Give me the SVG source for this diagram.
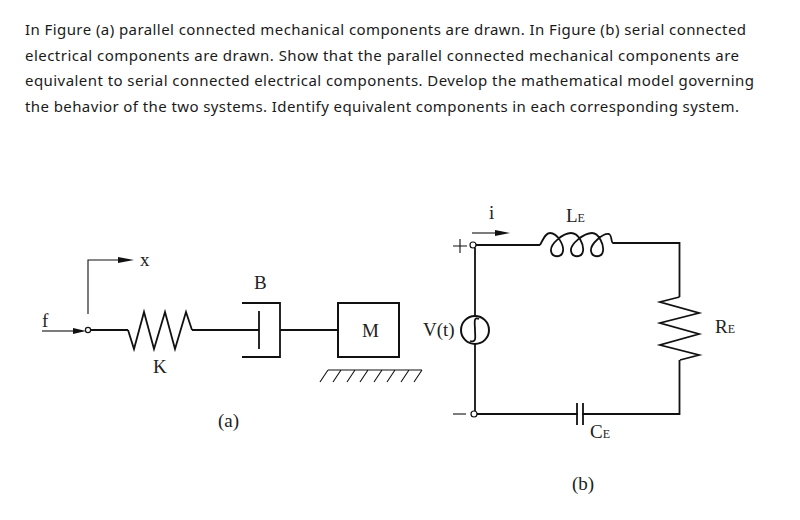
<svg xmlns="http://www.w3.org/2000/svg" width="800" height="520" viewBox="0 0 800 520">
<style>
.p{font-family:"Noto Sans","Open Sans",sans-serif;font-size:15px;fill:#1a1a1a}
.s{font-family:"Liberation Serif",serif;font-size:19px;fill:#222}
.e{font-size:12px}
.l{fill:none;stroke:#111;stroke-width:1.8;stroke-linejoin:miter}
.t{fill:none;stroke:#111;stroke-width:1.1}
.h{fill:#111;stroke:none}
.c{fill:#fff;stroke:#111;stroke-width:1.2}
</style>
<rect width="800" height="520" fill="#fff"/>
<g id="question">
<text class="p" x="25" y="35" textLength="721">In Figure (a) parallel connected mechanical components are drawn. In Figure (b) serial connected</text>
<text class="p" x="25" y="61" textLength="714">electrical components are drawn. Show that the parallel connected mechanical components are</text>
<text class="p" x="25" y="86" textLength="729">equivalent to serial connected electrical components. Develop the mathematical model governing</text>
<text class="p" x="25" y="112" textLength="714">the behavior of the two systems. Identify equivalent components in each corresponding system.</text>
</g>
<g id="connectors">
<path class="t" d="M42 331H74"/>
<path class="h" d="M73 328L86 331L73 334Z"/>
<path class="t" d="M88 314V260H120"/>
<path class="h" d="M118 257L134 260L118 263Z"/>
<path class="l" d="M91 330H128M192 330H259M280 330H338"/>
<path class="l" d="M476 245H540M613 243H679.5V297M679.5 360V414H477M475 248V316M475 344V411"/>
<path class="t" d="M472 233H497"/>
<path class="h" d="M495 230L510 233L495 236Z"/>
</g>
<g id="terminal-f">
<text class="s" x="42" y="327" font-size="21">f</text>
<circle class="c" cx="88" cy="330" r="2.6"/>
</g>
<g id="label-x"><text class="s" x="140" y="266">x</text></g>
<g id="spring-K">
<path class="l" d="M128 330L134 349L144 312L154 349L165 312L175 349L186 312L192 330"/>
<text class="s" x="153" y="373">K</text>
</g>
<g id="damper-B">
<path class="l" d="M242 303H280V357H242"/>
<path class="l" d="M259 311V349"/>
<text class="s" x="254" y="289">B</text>
</g>
<g id="mass-M">
<rect x="338" y="303" width="61" height="54" fill="#fff" stroke="#111" stroke-width="2"/>
<text class="s" x="362" y="337">M</text>
</g>
<g id="ground">
<path class="t" d="M328 370H422M328 370L320 382M341 370L333 382M355 370L347 382M368 370L360 382M382 370L374 382M395 370L387 382M409 370L401 382M422 370L414 382"/>
</g>
<g id="label-a"><text class="s" x="218" y="427">(a)</text></g>
<g id="label-i"><text class="s" x="489" y="219">i</text></g>
<g id="terminal-plus">
<path class="t" d="M453 246H467M460 239V253"/>
<circle class="c" cx="473" cy="245" r="3"/>
</g>
<g id="inductor-LE">
<path class="l" d="M540 245C543 240 545 233 550 233C558 233 564 246 563 251C562 258 552 258 551 251C550 244 563 233 571 233C579 233 584 245 583 251C582 258 572 258 571 251C570 244 584 233 592 233C599 233 604 245 603 251C602 258 592 258 591 251C590 244 603 233 609 234C612 235 611 243 613 243"/>
<text class="s" x="566" y="222">L<tspan class="e">E</tspan></text>
</g>
<g id="source-V">
<circle cx="475" cy="330" r="14" fill="#fff" stroke="#111" stroke-width="2"/>
<path class="l" d="M479 319C473 316 475 324 475 330C475 337 477 343 470 341"/>
<text class="s" x="423" y="336">V(t)</text>
</g>
<g id="terminal-minus">
<path class="t" d="M453 414H466"/>
<circle class="c" cx="474" cy="414" r="3"/>
</g>
<g id="resistor-RE">
<path class="l" d="M679.5 297L660 302L699 313L660 323L699 334L660 345L699 355L680 360"/>
<text class="s" x="715" y="333">R<tspan class="e">E</tspan></text>
</g>
<g id="capacitor-CE">
<rect x="578" y="405" width="4" height="18" fill="#fff"/>
<path class="l" d="M577 403V425M583 403V425"/>
<text class="s" x="590" y="438">C<tspan class="e">E</tspan></text>
</g>
<g id="label-b"><text class="s" x="572" y="490">(b)</text></g>
</svg>
